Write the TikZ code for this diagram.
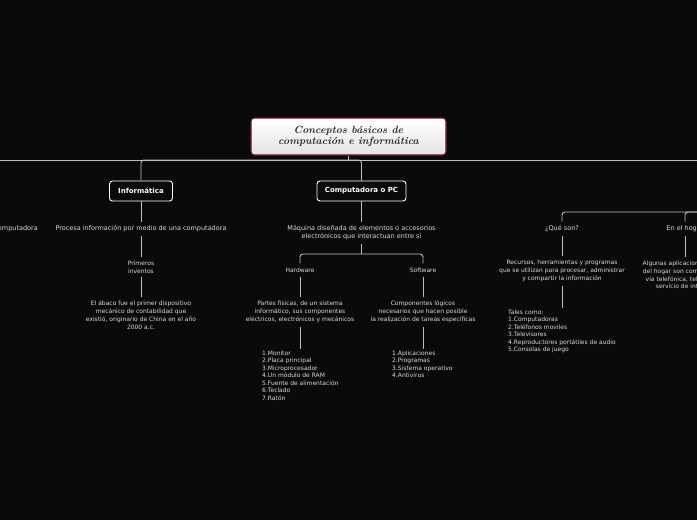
\documentclass[tikz,border=0pt]{standalone}
\usepackage{fontspec}
\usepackage{xcolor}
\usetikzlibrary{positioning, calc}
\newfontfamily\mapfont{DejaVu Sans}
\definecolor{bg}{HTML}{0A0A0C}
\definecolor{rootedge}{HTML}{6A1020}
\definecolor{linegray}{HTML}{BEBEBE}
\definecolor{textgray}{HTML}{DADADA}

\begin{document}
\begin{tikzpicture}[x=1pt, y=-1pt,
    link/.style={draw=linegray, line width=0.9pt, rounded corners=3pt},
    topic/.style={rectangle, rounded corners=3pt, draw=white, line width=0.9pt, fill=bg, text=white,
                  font=\mapfont\bfseries\fontsize{7}{8}\selectfont, minimum height=20pt},
    note/.style={text=textgray, align=center, inner xsep=2pt, inner ysep=4pt,
                 font=\mapfont\fontsize{6.5}{8}\selectfont},
    detail/.style={text=textgray, align=center, inner xsep=2pt, inner ysep=4pt,
                   font=\mapfont\fontsize{6}{7.8}\selectfont},
    listing/.style={text=textgray, align=left, anchor=north west, inner sep=2pt,
                    font=\mapfont\fontsize{6}{7.5}\selectfont}]
    \useasboundingbox (0,0) rectangle (697,520);
    \clip (0,0) rectangle (697,520);
    \fill[bg] (0,0) rectangle (697,520);

    % main topic
    \node (Root) [rectangle, rounded corners=3pt, draw=rootedge, line width=1.2pt, top color=white, bottom color=gray!22,
        minimum width=195pt, minimum height=37pt, align=center, text=black!85,
        font=\bfseries\itshape\fontsize{10.4}{11.5}\selectfont] at (348.5,136.5) {Conceptos básicos de\\computación e informática};
    \coordinate (Hub) at (348.5,160);
    \coordinate (OffLeft) at (0,160);
    \coordinate (OffRight) at (697,160);
    \draw[link] (Root.south) -- (Hub);
    \draw[link] (Hub) -- (OffLeft);
    \draw[link] (Hub) -- (OffRight);

    % informatica
    \node (Informatica) [topic, minimum width=63pt] at (141,191) {Informática};
    \node (Procesa) [note] at (141,229) {Procesa información por medio de una computadora};
    \node (Inventos) [detail] at (141,267) {Primeros\\inventos};
    \node (Abaco) [detail] at (141,315) {El ábaco fue el primer dispositivo\\mecánico de contabilidad que\\existió, originario de China en el año\\2000 a.c.};
    \node (Cut) [note, anchor=east] at (40,229) {computadora};
    \draw[link] (Informatica) |- (Hub);
    \draw[link] (Informatica) -- (Procesa);
    \draw[link] (Procesa) -- (Inventos);
    \draw[link] (Inventos) -- (Abaco);

    % computadora
    \node (PC) [topic, minimum width=89pt] at (361.5,191) {Computadora o PC};
    \node (Maquina) [note] at (361.5,233) {Máquina diseñada de elementos o accesorios\\electrónicos que interactuan entre sí};
    \coordinate (Fork) at (361.5,254);
    \node (Hardware) [detail] at (300,270) {Hardware};
    \node (Software) [detail] at (423,270) {Software};
    \node (HwDesc) [detail] at (300,312) {Partes físicas, de un sistema\\informático, sus componentes\\eléctricos, electrónicos y mecánicos};
    \node (SwDesc) [detail] at (423,312) {Componentes lógicos\\necesarios que hacen posible\\la realización de tareas específicas};
    \node (HwList) [listing] at (260,348.5) {1.Monitor\\2.Placa principal\\3.Microprocesador\\4.Un módulo de RAM\\5.Fuente de alimentación\\6.Teclado\\7.Ratón};
    \node (SwList) [listing] at (390,348.5) {1.Aplicaciones\\2.Programas\\3.Sistema operativo\\4.Antivirus};
    \draw[link] (PC) |- (Hub);
    \draw[link] (PC) -- (Maquina);
    \draw[link] (Maquina) -- (Fork);
    \draw[link] (Hardware) |- (Fork) -| (Software);
    \draw[link] (Hardware) -- (HwDesc);
    \draw[link] (Software) -- (SwDesc);
    \draw[link] (HwDesc.south) -- (HwDesc.south |- HwList.north);
    \draw[link] (SwDesc.south) -- (SwDesc.south |- SwList.north);

    % right side
    \coordinate (OffBar) at (697,212);
    \node (QueSon) [note] at (562,229) {¿Qué son?};
    \node (Recursos) [detail] at (562,271) {Recursos, herramientas y programas\\que se utilizan para procesar, administrar\\y compartir la información};
    \node (Tales) [listing] at (506,307.5) {Tales como:\\1.Computadoras\\2.Teléfonos moviles\\3.Televisores\\4.Reproductores portátiles de audio\\5.Consolas de juego};
    \node (Hogar) [note] at (685,229) {En el hogar};
    \node (HogarDesc) [detail] at (685,275) {Algunas aplicaciones dentro\\del hogar son comunicación\\vía telefónica, televisión y\\servicio de internet};
    \draw[link] (QueSon) |- (OffBar);
    \draw[link] (Hogar) |- (OffBar);
    \draw[link] (QueSon) -- (Recursos);
    \draw[link] (Recursos.south) -- (Recursos.south |- Tales.north);
    \draw[link] (Hogar) -- (HogarDesc);
\end{tikzpicture}
\end{document}
